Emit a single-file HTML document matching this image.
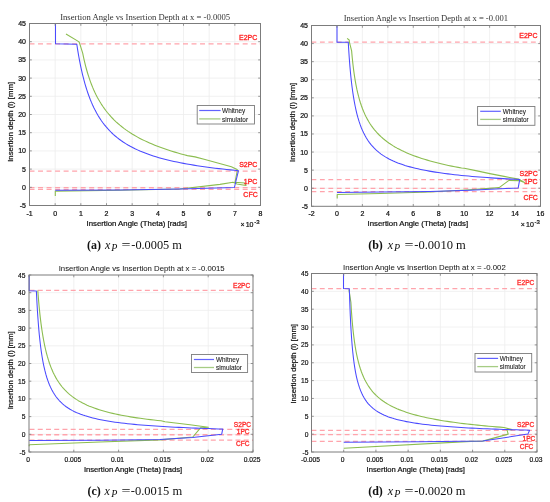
<!DOCTYPE html>
<html><head><meta charset="utf-8"><style>
html,body{margin:0;padding:0;background:#fff;}
svg{display:block;filter:blur(0.3px);}
</style></head><body>
<svg width="550" height="502" viewBox="0 0 550 502">
<style>
.tk,.lb,.lg,.rd,.ts{font-family:'Liberation Sans',Arial,sans-serif;}
.ti,.cp{font-family:'Liberation Serif','Times New Roman',serif;}
.tk{font-size:7px;fill:#111;stroke:#111;stroke-width:0.22px;}
.tk2{font-family:'Liberation Sans',Arial,sans-serif;font-size:6.7px;fill:#111;stroke:#111;stroke-width:0.18px;}
.lb{font-size:7px;fill:#111;stroke:#111;stroke-width:0.2px;}
.lg{font-size:6.4px;fill:#222;stroke:#222;stroke-width:0.08px;}
.rd{font-size:7.0px;fill:#ff2020;stroke:#ff2020;stroke-width:0.3px;}
.rd2{font-family:'Liberation Sans',Arial,sans-serif;font-size:6.6px;fill:#ff2a2a;stroke:#ff2a2a;stroke-width:0.3px;}
.ti{fill:#333;}
.ts{fill:#1a1a1a;stroke:#1a1a1a;stroke-width:0.05px;}
.cp{font-size:12px;fill:#111;}
.cb{font-weight:bold;}
.ci{font-style:italic;}
.cs{font-size:10px;}
</style>
<rect width="550" height="502" fill="#fff"/>
<path d="M55.17,23.50V205.50 M80.83,23.50V205.50 M106.50,23.50V205.50 M132.17,23.50V205.50 M157.83,23.50V205.50 M183.50,23.50V205.50 M209.17,23.50V205.50 M234.83,23.50V205.50 M29.50,187.30H260.50 M29.50,169.10H260.50 M29.50,150.90H260.50 M29.50,132.70H260.50 M29.50,114.50H260.50 M29.50,96.30H260.50 M29.50,78.10H260.50 M29.50,59.90H260.50 M29.50,41.70H260.50" stroke="#eeeeee" stroke-width="0.8" fill="none"/>
<line x1="29.50" y1="43.95" x2="260.50" y2="43.95" stroke="#ffa4ac" stroke-width="1.3" stroke-dasharray="5 3.527" stroke-dashoffset="0"/>
<line x1="29.50" y1="171.15" x2="260.50" y2="171.15" stroke="#ffa4ac" stroke-width="1.3" stroke-dasharray="5 3.527" stroke-dashoffset="0"/>
<line x1="29.50" y1="187.55" x2="260.50" y2="187.55" stroke="#ffa4ac" stroke-width="1.3" stroke-dasharray="5 3.527" stroke-dashoffset="0"/>
<line x1="29.50" y1="189.45" x2="260.50" y2="189.45" stroke="#ffa4ac" stroke-width="1.3" stroke-dasharray="5 3.527" stroke-dashoffset="0"/>
<path d="M66.00,34.00 L78.70,41.60 L79.30,42.40 L82.69,53.07 L83.15,55.36 L83.67,57.77 L84.23,60.29 L84.84,62.89 L85.50,65.55 L86.21,68.26 L86.97,70.98 L87.78,73.72 L88.64,76.45 L89.55,79.17 L90.50,81.86 L91.51,84.52 L92.56,87.15 L93.66,89.72 L94.81,92.25 L96.01,94.73 L97.26,97.16 L98.56,99.52 L99.91,101.83 L101.31,104.08 L102.75,106.28 L104.25,108.41 L105.79,110.49 L107.38,112.51 L109.02,114.48 L110.71,116.39 L112.45,118.25 L114.24,120.05 L116.08,121.81 L117.97,123.51 L119.90,125.17 L121.89,126.78 L123.92,128.34 L126.00,129.86 L128.13,131.34 L130.31,132.78 L132.54,134.18 L134.82,135.54 L137.15,136.86 L139.53,138.15 L141.95,139.40 L144.43,140.62 L146.95,141.81 L149.52,142.97 L152.14,144.09 L154.81,145.19 L157.53,146.26 L160.30,147.30 L163.12,148.32 L165.99,149.31 L168.90,150.28 L171.86,151.22 L174.88,152.14 L177.94,153.04 L181.05,153.92 L184.21,154.77 L187.42,155.61 L195.00,156.90 L204.10,159.20 L213.20,161.80 L222.30,164.30 L231.40,166.80 L235.00,168.40 L237.10,169.50 L237.40,170.00 L235.00,182.30 L245.00,183.00 L246.00,185.50 L237.00,184.00 L233.00,182.30 L220.00,184.40 L180.00,189.00 L120.00,190.30 L55.30,191.10 L55.30,196.10" stroke="#8cbd50" stroke-width="1.1" fill="none" stroke-linejoin="round"/>
<path d="M55.50,23.50 L55.50,43.80 L76.80,44.20 L76.82,44.37 L76.90,44.88 L77.03,45.71 L77.20,46.87 L77.43,48.32 L77.71,50.06 L78.04,52.06 L78.42,54.29 L78.84,56.74 L79.32,59.36 L79.86,62.15 L80.44,65.06 L81.07,68.07 L81.75,71.16 L82.48,74.30 L83.27,77.48 L84.10,80.66 L84.98,83.85 L85.92,87.01 L86.90,90.14 L87.94,93.23 L89.03,96.26 L90.16,99.23 L91.35,102.13 L92.59,104.95 L93.88,107.70 L95.22,110.37 L96.61,112.95 L98.05,115.45 L99.54,117.87 L101.08,120.20 L102.67,122.45 L104.31,124.62 L106.01,126.70 L107.75,128.71 L109.54,130.64 L111.39,132.50 L113.28,134.29 L115.23,136.01 L117.22,137.65 L119.27,139.24 L121.37,140.76 L123.51,142.22 L125.71,143.63 L127.96,144.98 L130.26,146.28 L132.61,147.52 L135.01,148.72 L137.46,149.87 L139.96,150.98 L142.51,152.04 L145.12,153.06 L147.77,154.05 L150.47,155.00 L153.23,155.91 L156.03,156.78 L158.89,157.63 L161.79,158.44 L164.75,159.23 L167.76,159.98 L170.81,160.71 L173.92,161.41 L177.08,162.09 L180.29,162.74 L183.55,163.37 L186.86,163.98 L190.22,164.57 L193.63,165.13 L197.09,165.68 L200.60,166.21 L204.16,166.72 L207.78,167.22 L211.44,167.70 L215.15,168.16 L218.92,168.61 L222.73,169.04 L226.60,169.46 L230.52,169.87 L234.48,170.26 L238.50,170.65 L234.40,187.50 L180.00,189.00 L120.00,189.90 L55.30,190.30" stroke="#4a4aff" stroke-width="1.05" fill="none" stroke-linejoin="round"/>
<text x="257.35" y="40.30" text-anchor="end" class="rd">E2PC</text>
<text x="257.45" y="167.30" text-anchor="end" class="rd">S2PC</text>
<text x="257.45" y="184.30" text-anchor="end" class="rd">1PC</text>
<text x="257.75" y="197.00" text-anchor="end" class="rd">CFC</text>
<path d="M29.50,205.50v-2.30 M29.50,23.50v2.30 M55.17,205.50v-2.30 M55.17,23.50v2.30 M80.83,205.50v-2.30 M80.83,23.50v2.30 M106.50,205.50v-2.30 M106.50,23.50v2.30 M132.17,205.50v-2.30 M132.17,23.50v2.30 M157.83,205.50v-2.30 M157.83,23.50v2.30 M183.50,205.50v-2.30 M183.50,23.50v2.30 M209.17,205.50v-2.30 M209.17,23.50v2.30 M234.83,205.50v-2.30 M234.83,23.50v2.30 M260.50,205.50v-2.30 M260.50,23.50v2.30 M29.50,205.50h2.30 M260.50,205.50h-2.30 M29.50,187.30h2.30 M260.50,187.30h-2.30 M29.50,169.10h2.30 M260.50,169.10h-2.30 M29.50,150.90h2.30 M260.50,150.90h-2.30 M29.50,132.70h2.30 M260.50,132.70h-2.30 M29.50,114.50h2.30 M260.50,114.50h-2.30 M29.50,96.30h2.30 M260.50,96.30h-2.30 M29.50,78.10h2.30 M260.50,78.10h-2.30 M29.50,59.90h2.30 M260.50,59.90h-2.30 M29.50,41.70h2.30 M260.50,41.70h-2.30 M29.50,23.50h2.30 M260.50,23.50h-2.30" stroke="#7c7c7c" stroke-width="0.8" fill="none"/>
<rect x="29.50" y="23.50" width="231.00" height="182.00" stroke="#7c7c7c" stroke-width="1" fill="none"/>
<text x="29.50" y="215.50" text-anchor="middle" class="tk">-1</text>
<text x="55.17" y="215.50" text-anchor="middle" class="tk">0</text>
<text x="80.83" y="215.50" text-anchor="middle" class="tk">1</text>
<text x="106.50" y="215.50" text-anchor="middle" class="tk">2</text>
<text x="132.17" y="215.50" text-anchor="middle" class="tk">3</text>
<text x="157.83" y="215.50" text-anchor="middle" class="tk">4</text>
<text x="183.50" y="215.50" text-anchor="middle" class="tk">5</text>
<text x="209.17" y="215.50" text-anchor="middle" class="tk">6</text>
<text x="234.83" y="215.50" text-anchor="middle" class="tk">7</text>
<text x="260.50" y="215.50" text-anchor="middle" class="tk">8</text>
<text x="26.00" y="208.00" text-anchor="end" class="tk">-5</text>
<text x="26.00" y="189.80" text-anchor="end" class="tk">0</text>
<text x="26.00" y="171.60" text-anchor="end" class="tk">5</text>
<text x="26.00" y="153.40" text-anchor="end" class="tk">10</text>
<text x="26.00" y="135.20" text-anchor="end" class="tk">15</text>
<text x="26.00" y="117.00" text-anchor="end" class="tk">20</text>
<text x="26.00" y="98.80" text-anchor="end" class="tk">25</text>
<text x="26.00" y="80.60" text-anchor="end" class="tk">30</text>
<text x="26.00" y="62.40" text-anchor="end" class="tk">35</text>
<text x="26.00" y="44.20" text-anchor="end" class="tk">40</text>
<text x="26.00" y="26.00" text-anchor="end" class="tk">45</text>
<text x="240.50" y="227.40" class="tk"><tspan>×</tspan><tspan dx="1.1">10</tspan><tspan dx="0.7" dy="-3" font-size="6">-3</tspan></text>
<text x="86.50" y="226.00" class="lb" textLength="100.50" lengthAdjust="spacingAndGlyphs">Insertion Angle (Theta) [rads]</text>
<text transform="translate(12.60,161.80) rotate(-90)" x="0" y="0" class="lb" textLength="79.90" lengthAdjust="spacingAndGlyphs">Insertion depth (l) [mm]</text>
<text x="60.20" y="19.80" class="ti" font-size="7.6" textLength="170.00" lengthAdjust="spacingAndGlyphs">Insertion Angle vs Insertion Depth at x = -0.0005</text>
<rect x="197.20" y="105.50" width="57.30" height="18.50" fill="#fff" stroke="#7c7c7c" stroke-width="0.9"/>
<line x1="199.20" y1="110.50" x2="220.60" y2="110.50" stroke="#6262ff" stroke-width="1.2"/>
<line x1="199.20" y1="118.90" x2="220.60" y2="118.90" stroke="#a6cc84" stroke-width="1.3"/>
<text x="222.10" y="113.30" class="lg">Whitney</text>
<text x="222.10" y="121.70" class="lg">simulator</text>
<text x="86.90" y="249.20" class="cp cb">(a)</text>
<text x="105.00" y="249.20" class="cp ci">x</text>
<text x="111.20" y="251.20" class="cp ci cs">P</text>
<text x="121.50" y="249.20" class="cp" textLength="9" lengthAdjust="spacingAndGlyphs">=</text>
<text x="131.30" y="249.20" class="cp" textLength="50.60" lengthAdjust="spacingAndGlyphs">-0.0005 m</text>
<path d="M336.94,25.50V206.30 M362.39,25.50V206.30 M387.83,25.50V206.30 M413.28,25.50V206.30 M438.72,25.50V206.30 M464.17,25.50V206.30 M489.61,25.50V206.30 M515.06,25.50V206.30 M311.50,188.22H540.50 M311.50,170.14H540.50 M311.50,152.06H540.50 M311.50,133.98H540.50 M311.50,115.90H540.50 M311.50,97.82H540.50 M311.50,79.74H540.50 M311.50,61.66H540.50 M311.50,43.58H540.50" stroke="#eeeeee" stroke-width="0.8" fill="none"/>
<line x1="311.50" y1="42.15" x2="540.50" y2="42.15" stroke="#ffa4ac" stroke-width="1.3" stroke-dasharray="4.8 3.64" stroke-dashoffset="0"/>
<line x1="311.50" y1="179.65" x2="540.50" y2="179.65" stroke="#ffa4ac" stroke-width="1.3" stroke-dasharray="4.8 3.64" stroke-dashoffset="0"/>
<line x1="311.50" y1="188.35" x2="540.50" y2="188.35" stroke="#ffa4ac" stroke-width="1.3" stroke-dasharray="4.8 3.64" stroke-dashoffset="0"/>
<line x1="311.50" y1="191.65" x2="540.50" y2="191.65" stroke="#ffa4ac" stroke-width="1.3" stroke-dasharray="4.8 3.64" stroke-dashoffset="0"/>
<path d="M347.10,38.40 L349.20,40.00 L349.40,42.20 L351.62,50.77 L351.91,54.09 L352.25,57.72 L352.64,61.57 L353.08,65.56 L353.58,69.60 L354.13,73.66 L354.73,77.67 L355.39,81.61 L356.09,85.45 L356.85,89.17 L357.67,92.76 L358.53,96.22 L359.45,99.54 L360.41,102.72 L361.43,105.77 L362.51,108.69 L363.63,111.48 L364.81,114.15 L366.04,116.70 L367.32,119.13 L368.66,121.46 L370.05,123.70 L371.49,125.83 L372.98,127.88 L374.52,129.83 L376.12,131.71 L377.77,133.51 L379.47,135.24 L381.23,136.91 L383.03,138.50 L384.89,140.04 L386.80,141.52 L388.76,142.94 L390.78,144.31 L392.85,145.63 L394.97,146.91 L397.14,148.14 L399.37,149.33 L401.64,150.48 L403.97,151.59 L406.36,152.66 L408.79,153.71 L411.28,154.71 L413.82,155.69 L416.41,156.64 L419.05,157.56 L421.75,158.45 L424.50,159.31 L427.30,160.15 L430.15,160.97 L433.06,161.76 L436.01,162.54 L439.03,163.29 L442.09,164.02 L445.20,164.73 L448.37,165.42 L451.59,166.10 L454.86,166.76 L458.19,167.40 L461.56,168.03 L464.30,168.20 L477.00,170.90 L489.80,173.60 L504.00,176.40 L518.50,179.10 L524.50,182.50 L519.00,180.60 L509.00,180.40 L499.10,187.60 L470.00,189.80 L430.00,192.00 L380.00,193.50 L337.20,194.50 L337.20,198.40" stroke="#8cbd50" stroke-width="1.1" fill="none" stroke-linejoin="round"/>
<path d="M337.00,25.50 L337.00,42.20 L348.27,42.30 L348.30,42.78 L348.38,44.19 L348.51,46.47 L348.70,49.53 L348.94,53.25 L349.23,57.51 L349.58,62.17 L349.98,67.10 L350.44,72.19 L350.95,77.34 L351.51,82.47 L352.13,87.51 L352.80,92.42 L353.52,97.15 L354.30,101.69 L355.13,106.02 L356.01,110.13 L356.95,114.02 L357.94,117.69 L358.98,121.15 L360.08,124.41 L361.23,127.47 L362.44,130.35 L363.70,133.06 L365.01,135.60 L366.38,137.99 L367.80,140.24 L369.27,142.35 L370.80,144.33 L372.38,146.20 L374.01,147.97 L375.70,149.63 L377.44,151.19 L379.23,152.67 L381.08,154.07 L382.98,155.40 L384.94,156.65 L386.95,157.83 L389.01,158.96 L391.13,160.02 L393.30,161.04 L395.52,162.00 L397.80,162.91 L400.13,163.78 L402.51,164.61 L404.95,165.41 L407.44,166.16 L409.99,166.88 L412.58,167.57 L415.24,168.23 L417.94,168.85 L420.70,169.46 L423.51,170.03 L426.38,170.59 L429.30,171.12 L432.27,171.62 L435.30,172.11 L438.38,172.58 L441.51,173.03 L444.70,173.47 L447.94,173.88 L451.24,174.29 L454.58,174.67 L457.99,175.05 L461.44,175.41 L464.95,175.75 L468.51,176.09 L472.13,176.41 L475.80,176.72 L479.52,177.03 L483.30,177.32 L487.13,177.60 L491.01,177.87 L494.95,178.14 L498.94,178.39 L502.99,178.64 L507.08,178.88 L511.24,179.11 L515.44,179.34 L519.70,179.56 L518.20,187.90 L470.00,190.20 L430.00,191.50 L380.00,192.10 L337.00,192.40" stroke="#4a4aff" stroke-width="1.05" fill="none" stroke-linejoin="round"/>
<text x="537.55" y="38.30" text-anchor="end" class="rd">E2PC</text>
<text x="537.85" y="176.20" text-anchor="end" class="rd">S2PC</text>
<text x="537.55" y="184.20" text-anchor="end" class="rd">1PC</text>
<text x="537.85" y="199.60" text-anchor="end" class="rd">CFC</text>
<path d="M311.50,206.30v-2.30 M311.50,25.50v2.30 M336.94,206.30v-2.30 M336.94,25.50v2.30 M362.39,206.30v-2.30 M362.39,25.50v2.30 M387.83,206.30v-2.30 M387.83,25.50v2.30 M413.28,206.30v-2.30 M413.28,25.50v2.30 M438.72,206.30v-2.30 M438.72,25.50v2.30 M464.17,206.30v-2.30 M464.17,25.50v2.30 M489.61,206.30v-2.30 M489.61,25.50v2.30 M515.06,206.30v-2.30 M515.06,25.50v2.30 M540.50,206.30v-2.30 M540.50,25.50v2.30 M311.50,206.30h2.30 M540.50,206.30h-2.30 M311.50,188.22h2.30 M540.50,188.22h-2.30 M311.50,170.14h2.30 M540.50,170.14h-2.30 M311.50,152.06h2.30 M540.50,152.06h-2.30 M311.50,133.98h2.30 M540.50,133.98h-2.30 M311.50,115.90h2.30 M540.50,115.90h-2.30 M311.50,97.82h2.30 M540.50,97.82h-2.30 M311.50,79.74h2.30 M540.50,79.74h-2.30 M311.50,61.66h2.30 M540.50,61.66h-2.30 M311.50,43.58h2.30 M540.50,43.58h-2.30 M311.50,25.50h2.30 M540.50,25.50h-2.30" stroke="#7c7c7c" stroke-width="0.8" fill="none"/>
<rect x="311.50" y="25.50" width="229.00" height="180.80" stroke="#7c7c7c" stroke-width="1" fill="none"/>
<text x="311.50" y="216.00" text-anchor="middle" class="tk">-2</text>
<text x="336.94" y="216.00" text-anchor="middle" class="tk">0</text>
<text x="362.39" y="216.00" text-anchor="middle" class="tk">2</text>
<text x="387.83" y="216.00" text-anchor="middle" class="tk">4</text>
<text x="413.28" y="216.00" text-anchor="middle" class="tk">6</text>
<text x="438.72" y="216.00" text-anchor="middle" class="tk">8</text>
<text x="464.17" y="216.00" text-anchor="middle" class="tk">10</text>
<text x="489.61" y="216.00" text-anchor="middle" class="tk">12</text>
<text x="515.06" y="216.00" text-anchor="middle" class="tk">14</text>
<text x="540.50" y="216.00" text-anchor="middle" class="tk">16</text>
<text x="308.00" y="208.80" text-anchor="end" class="tk">-5</text>
<text x="308.00" y="190.72" text-anchor="end" class="tk">0</text>
<text x="308.00" y="172.64" text-anchor="end" class="tk">5</text>
<text x="308.00" y="154.56" text-anchor="end" class="tk">10</text>
<text x="308.00" y="136.48" text-anchor="end" class="tk">15</text>
<text x="308.00" y="118.40" text-anchor="end" class="tk">20</text>
<text x="308.00" y="100.32" text-anchor="end" class="tk">25</text>
<text x="308.00" y="82.24" text-anchor="end" class="tk">30</text>
<text x="308.00" y="64.16" text-anchor="end" class="tk">35</text>
<text x="308.00" y="46.08" text-anchor="end" class="tk">40</text>
<text x="308.00" y="28.00" text-anchor="end" class="tk">45</text>
<text x="520.80" y="227.30" class="tk"><tspan>×</tspan><tspan dx="1.1">10</tspan><tspan dx="0.7" dy="-3" font-size="6">-3</tspan></text>
<text x="367.60" y="226.20" class="lb" textLength="100.50" lengthAdjust="spacingAndGlyphs">Insertion Angle (Theta) [rads]</text>
<text transform="translate(295.20,162.00) rotate(-90)" x="0" y="0" class="lb" textLength="79.20" lengthAdjust="spacingAndGlyphs">Insertion depth (l) [mm]</text>
<text x="343.70" y="21.30" class="ti" font-size="7.4" textLength="164.30" lengthAdjust="spacingAndGlyphs">Insertion Angle vs Insertion Depth at x = -0.001</text>
<rect x="477.60" y="106.50" width="57.30" height="18.80" fill="#fff" stroke="#7c7c7c" stroke-width="0.9"/>
<line x1="480.20" y1="111.30" x2="500.80" y2="111.30" stroke="#6262ff" stroke-width="1.2"/>
<line x1="480.20" y1="119.40" x2="500.80" y2="119.40" stroke="#a6cc84" stroke-width="1.3"/>
<text x="502.80" y="114.10" class="lg">Whitney</text>
<text x="502.80" y="122.20" class="lg">simulator</text>
<text x="368.20" y="249.00" class="cp cb">(b)</text>
<text x="387.70" y="249.00" class="cp ci">x</text>
<text x="394.00" y="251.00" class="cp ci cs">P</text>
<text x="404.50" y="249.00" class="cp" textLength="9" lengthAdjust="spacingAndGlyphs">=</text>
<text x="414.30" y="249.00" class="cp" textLength="51.50" lengthAdjust="spacingAndGlyphs">-0.0010 m</text>
<path d="M73.80,275.00V452.00 M118.60,275.00V452.00 M163.40,275.00V452.00 M208.20,275.00V452.00 M29.00,434.30H253.00 M29.00,416.60H253.00 M29.00,398.90H253.00 M29.00,381.20H253.00 M29.00,363.50H253.00 M29.00,345.80H253.00 M29.00,328.10H253.00 M29.00,310.40H253.00 M29.00,292.70H253.00" stroke="#eeeeee" stroke-width="0.8" fill="none"/>
<line x1="29.00" y1="290.45" x2="253.00" y2="290.45" stroke="#ffa4ac" stroke-width="1.3" stroke-dasharray="5 3.24" stroke-dashoffset="-0.5"/>
<line x1="29.00" y1="429.35" x2="253.00" y2="429.35" stroke="#ffa4ac" stroke-width="1.3" stroke-dasharray="5 3.24" stroke-dashoffset="-0.5"/>
<line x1="29.00" y1="434.75" x2="253.00" y2="434.75" stroke="#ffa4ac" stroke-width="1.3" stroke-dasharray="5 3.24" stroke-dashoffset="-0.5"/>
<line x1="29.00" y1="440.15" x2="253.00" y2="440.15" stroke="#ffa4ac" stroke-width="1.3" stroke-dasharray="5 3.24" stroke-dashoffset="-0.5"/>
<path d="M37.80,290.50 L37.83,290.87 L37.91,291.95 L38.04,293.72 L38.23,296.11 L38.47,299.06 L38.76,302.48 L39.11,306.27 L39.51,310.37 L39.96,314.67 L40.47,319.10 L41.03,323.59 L41.64,328.09 L42.31,332.54 L43.03,336.91 L43.80,341.16 L44.63,345.28 L45.51,349.25 L46.44,353.06 L47.43,356.70 L48.47,360.17 L49.56,363.48 L50.70,366.62 L51.90,369.59 L53.16,372.42 L54.46,375.09 L55.82,377.63 L57.24,380.02 L58.70,382.30 L60.22,384.44 L61.79,386.48 L63.42,388.41 L65.10,390.23 L66.83,391.96 L68.62,393.61 L70.46,395.16 L72.35,396.64 L74.29,398.05 L76.29,399.38 L78.35,400.65 L80.45,401.86 L82.61,403.01 L84.82,404.10 L87.09,405.15 L89.41,406.14 L91.78,407.09 L94.21,408.00 L96.69,408.87 L99.22,409.70 L101.80,410.50 L104.44,411.26 L107.13,411.98 L109.88,412.68 L112.68,413.35 L115.53,414.00 L118.44,414.61 L121.40,415.21 L124.41,415.78 L127.47,416.32 L130.59,416.85 L133.76,417.36 L136.99,417.85 L140.27,418.32 L143.60,418.77 L146.99,419.21 L150.42,419.63 L153.92,420.04 L157.46,420.44 L161.06,420.82 L165.00,421.70 L190.00,424.80 L208.40,427.20 L200.50,427.80 L192.80,437.00 L160.00,439.90 L100.00,442.00 L29.20,444.70 L29.20,446.20" stroke="#8cbd50" stroke-width="1.1" fill="none" stroke-linejoin="round"/>
<path d="M29.20,275.00 L29.20,290.80 L36.39,291.00 L36.41,291.64 L36.50,293.51 L36.65,296.53 L36.85,300.53 L37.11,305.33 L37.43,310.73 L37.81,316.53 L38.25,322.55 L38.74,328.64 L39.30,334.68 L39.91,340.57 L40.58,346.24 L41.31,351.64 L42.09,356.75 L42.94,361.55 L43.84,366.05 L44.80,370.24 L45.82,374.14 L46.89,377.76 L48.03,381.12 L49.22,384.23 L50.48,387.12 L51.79,389.79 L53.15,392.27 L54.58,394.57 L56.06,396.70 L57.61,398.68 L59.21,400.52 L60.87,402.23 L62.59,403.83 L64.36,405.32 L66.20,406.71 L68.09,408.00 L70.04,409.22 L72.05,410.36 L74.11,411.42 L76.24,412.42 L78.42,413.36 L80.66,414.25 L82.96,415.08 L85.32,415.86 L87.74,416.60 L90.21,417.30 L92.75,417.96 L95.34,418.59 L97.99,419.18 L100.69,419.74 L103.46,420.28 L106.28,420.78 L109.16,421.26 L112.10,421.72 L115.10,422.15 L118.16,422.57 L121.27,422.96 L124.45,423.34 L127.68,423.70 L130.97,424.04 L134.32,424.37 L137.72,424.68 L141.19,424.98 L144.71,425.27 L148.29,425.55 L151.93,425.81 L155.63,426.06 L159.38,426.31 L163.20,426.54 L167.07,426.77 L171.00,426.98 L174.99,427.19 L179.03,427.39 L183.14,427.58 L187.30,427.77 L191.52,427.95 L195.80,428.12 L200.14,428.29 L204.53,428.45 L208.99,428.60 L213.50,428.75 L218.07,428.90 L222.70,429.04 L221.70,434.20 L192.50,437.40 L160.00,439.60 L100.00,440.30 L29.20,440.50" stroke="#4a4aff" stroke-width="1.05" fill="none" stroke-linejoin="round"/>
<text x="250.25" y="287.50" text-anchor="end" class="rd2">E2PC</text>
<text x="251.05" y="426.60" text-anchor="end" class="rd2">S2PC</text>
<text x="249.55" y="434.20" text-anchor="end" class="rd2">1PC</text>
<text x="249.65" y="446.10" text-anchor="end" class="rd2">CFC</text>
<path d="M29.00,452.00v-2.30 M29.00,275.00v2.30 M73.80,452.00v-2.30 M73.80,275.00v2.30 M118.60,452.00v-2.30 M118.60,275.00v2.30 M163.40,452.00v-2.30 M163.40,275.00v2.30 M208.20,452.00v-2.30 M208.20,275.00v2.30 M253.00,452.00v-2.30 M253.00,275.00v2.30 M29.00,452.00h2.30 M253.00,452.00h-2.30 M29.00,434.30h2.30 M253.00,434.30h-2.30 M29.00,416.60h2.30 M253.00,416.60h-2.30 M29.00,398.90h2.30 M253.00,398.90h-2.30 M29.00,381.20h2.30 M253.00,381.20h-2.30 M29.00,363.50h2.30 M253.00,363.50h-2.30 M29.00,345.80h2.30 M253.00,345.80h-2.30 M29.00,328.10h2.30 M253.00,328.10h-2.30 M29.00,310.40h2.30 M253.00,310.40h-2.30 M29.00,292.70h2.30 M253.00,292.70h-2.30 M29.00,275.00h2.30 M253.00,275.00h-2.30" stroke="#7c7c7c" stroke-width="0.8" fill="none"/>
<rect x="29.00" y="275.00" width="224.00" height="177.00" stroke="#7c7c7c" stroke-width="1" fill="none"/>
<text x="28.00" y="462.00" text-anchor="middle" class="tk2">0</text>
<text x="72.80" y="462.00" text-anchor="middle" class="tk2">0.005</text>
<text x="117.60" y="462.00" text-anchor="middle" class="tk2">0.01</text>
<text x="162.40" y="462.00" text-anchor="middle" class="tk2">0.015</text>
<text x="207.20" y="462.00" text-anchor="middle" class="tk2">0.02</text>
<text x="252.00" y="462.00" text-anchor="middle" class="tk2">0.025</text>
<text x="25.50" y="454.50" text-anchor="end" class="tk2">-5</text>
<text x="25.50" y="436.80" text-anchor="end" class="tk2">0</text>
<text x="25.50" y="419.10" text-anchor="end" class="tk2">5</text>
<text x="25.50" y="401.40" text-anchor="end" class="tk2">10</text>
<text x="25.50" y="383.70" text-anchor="end" class="tk2">15</text>
<text x="25.50" y="366.00" text-anchor="end" class="tk2">20</text>
<text x="25.50" y="348.30" text-anchor="end" class="tk2">25</text>
<text x="25.50" y="330.60" text-anchor="end" class="tk2">30</text>
<text x="25.50" y="312.90" text-anchor="end" class="tk2">35</text>
<text x="25.50" y="295.20" text-anchor="end" class="tk2">40</text>
<text x="25.50" y="277.50" text-anchor="end" class="tk2">45</text>
<text x="83.90" y="472.30" class="lb" textLength="98.30" lengthAdjust="spacingAndGlyphs">Insertion Angle (Theta) [rads]</text>
<text transform="translate(13.10,409.30) rotate(-90)" x="0" y="0" class="lb" textLength="77.90" lengthAdjust="spacingAndGlyphs">Insertion depth (l) [mm]</text>
<text x="58.70" y="270.80" class="ts" font-size="7.8" textLength="166.00" lengthAdjust="spacingAndGlyphs">Insertion Angle vs Insertion Depth at x = -0.0015</text>
<rect x="191.50" y="354.50" width="56.10" height="18.00" fill="#fff" stroke="#7c7c7c" stroke-width="0.9"/>
<line x1="193.90" y1="359.50" x2="214.00" y2="359.50" stroke="#6262ff" stroke-width="1.2"/>
<line x1="193.90" y1="367.50" x2="214.00" y2="367.50" stroke="#a6cc84" stroke-width="1.3"/>
<text x="216.00" y="362.30" class="lg">Whitney</text>
<text x="216.00" y="370.30" class="lg">simulator</text>
<text x="87.40" y="494.60" class="cp cb">(c)</text>
<text x="104.50" y="494.60" class="cp ci">x</text>
<text x="111.20" y="496.60" class="cp ci cs">P</text>
<text x="121.50" y="494.60" class="cp" textLength="9" lengthAdjust="spacingAndGlyphs">=</text>
<text x="130.80" y="494.60" class="cp" textLength="51.40" lengthAdjust="spacingAndGlyphs">-0.0015 m</text>
<path d="M343.71,273.50V452.00 M375.93,273.50V452.00 M408.14,273.50V452.00 M440.36,273.50V452.00 M472.57,273.50V452.00 M504.79,273.50V452.00 M311.50,434.15H537.00 M311.50,416.30H537.00 M311.50,398.45H537.00 M311.50,380.60H537.00 M311.50,362.75H537.00 M311.50,344.90H537.00 M311.50,327.05H537.00 M311.50,309.20H537.00 M311.50,291.35H537.00" stroke="#eeeeee" stroke-width="0.8" fill="none"/>
<line x1="311.50" y1="288.65" x2="537.00" y2="288.65" stroke="#ffa4ac" stroke-width="1.3" stroke-dasharray="4.9 3.39" stroke-dashoffset="0"/>
<line x1="311.50" y1="430.45" x2="537.00" y2="430.45" stroke="#ffa4ac" stroke-width="1.3" stroke-dasharray="4.9 3.39" stroke-dashoffset="0"/>
<line x1="311.50" y1="434.55" x2="537.00" y2="434.55" stroke="#ffa4ac" stroke-width="1.3" stroke-dasharray="4.9 3.39" stroke-dashoffset="0"/>
<line x1="311.50" y1="441.45" x2="537.00" y2="441.45" stroke="#ffa4ac" stroke-width="1.3" stroke-dasharray="4.9 3.39" stroke-dashoffset="0"/>
<path d="M348.90,289.30 L350.89,302.39 L351.17,307.02 L351.49,311.97 L351.87,317.11 L352.30,322.31 L352.78,327.46 L353.31,332.51 L353.90,337.40 L354.53,342.09 L355.21,346.56 L355.94,350.81 L356.73,354.84 L357.56,358.63 L358.44,362.22 L359.38,365.59 L360.37,368.77 L361.40,371.76 L362.49,374.58 L363.63,377.23 L364.81,379.73 L366.05,382.09 L367.34,384.31 L368.68,386.42 L370.07,388.40 L371.51,390.29 L373.00,392.07 L374.54,393.76 L376.14,395.36 L377.78,396.88 L379.47,398.33 L381.22,399.71 L383.01,401.02 L384.85,402.27 L386.75,403.47 L388.70,404.61 L390.69,405.70 L392.74,406.75 L394.84,407.74 L396.99,408.70 L399.18,409.62 L401.43,410.50 L403.73,411.35 L406.08,412.16 L408.48,412.94 L410.94,413.70 L413.44,414.42 L415.99,415.12 L418.59,415.80 L421.25,416.45 L423.95,417.07 L426.71,417.68 L429.51,418.26 L432.37,418.83 L435.27,419.38 L438.23,419.91 L441.24,420.42 L444.30,420.92 L447.40,421.40 L450.56,421.87 L453.77,422.32 L457.03,422.76 L460.34,423.19 L463.70,423.60 L467.12,424.00 L470.58,424.40 L474.09,424.78 L477.65,425.15 L481.27,425.51 L484.93,425.86 L488.65,426.20 L492.41,426.53 L496.23,426.86 L500.10,427.17 L504.01,427.48 L505.00,427.70 L512.00,429.60 L506.90,429.60 L508.20,434.10 L482.70,441.10 L470.90,441.40 L343.70,448.20" stroke="#8cbd50" stroke-width="1.1" fill="none" stroke-linejoin="round"/>
<path d="M343.50,273.50 L343.50,288.60 L349.32,288.70 L349.35,289.67 L349.44,292.50 L349.58,296.95 L349.77,302.68 L350.03,309.33 L350.34,316.52 L350.70,323.93 L351.13,331.30 L351.60,338.46 L352.14,345.28 L352.73,351.68 L353.38,357.63 L354.08,363.13 L354.84,368.19 L355.66,372.81 L356.53,377.05 L357.46,380.91 L358.45,384.44 L359.49,387.67 L360.59,390.62 L361.75,393.32 L362.96,395.79 L364.22,398.06 L365.55,400.14 L366.93,402.06 L368.37,403.84 L369.86,405.47 L371.41,406.98 L373.01,408.39 L374.67,409.69 L376.39,410.90 L378.17,412.03 L380.00,413.08 L381.89,414.06 L383.83,414.98 L385.83,415.84 L387.89,416.65 L390.00,417.40 L392.17,418.12 L394.39,418.79 L396.67,419.42 L399.01,420.02 L401.41,420.58 L403.86,421.11 L406.36,421.62 L408.93,422.10 L411.55,422.55 L414.22,422.98 L416.96,423.39 L419.74,423.78 L422.59,424.15 L425.49,424.51 L428.45,424.85 L431.46,425.17 L434.53,425.48 L437.66,425.77 L440.84,426.05 L444.08,426.32 L447.38,426.58 L450.73,426.83 L454.14,427.06 L457.60,427.29 L461.12,427.51 L464.70,427.72 L468.33,427.92 L472.02,428.12 L475.77,428.30 L479.57,428.48 L483.43,428.66 L487.35,428.83 L491.32,428.99 L495.35,429.14 L499.43,429.29 L503.57,429.44 L507.77,429.58 L512.02,429.72 L516.33,429.85 L520.70,429.97 L525.12,430.10 L529.60,430.22 L527.90,434.10 L482.70,441.10 L420.00,441.80 L343.70,442.20" stroke="#4a4aff" stroke-width="1.05" fill="none" stroke-linejoin="round"/>
<text x="534.35" y="285.20" text-anchor="end" class="rd2">E2PC</text>
<text x="534.25" y="426.60" text-anchor="end" class="rd2">S2PC</text>
<text x="535.35" y="440.50" text-anchor="end" class="rd2">1PC</text>
<text x="533.25" y="448.90" text-anchor="end" class="rd2">CFC</text>
<path d="M311.50,452.00v-2.30 M311.50,273.50v2.30 M343.71,452.00v-2.30 M343.71,273.50v2.30 M375.93,452.00v-2.30 M375.93,273.50v2.30 M408.14,452.00v-2.30 M408.14,273.50v2.30 M440.36,452.00v-2.30 M440.36,273.50v2.30 M472.57,452.00v-2.30 M472.57,273.50v2.30 M504.79,452.00v-2.30 M504.79,273.50v2.30 M537.00,452.00v-2.30 M537.00,273.50v2.30 M311.50,452.00h2.30 M537.00,452.00h-2.30 M311.50,434.15h2.30 M537.00,434.15h-2.30 M311.50,416.30h2.30 M537.00,416.30h-2.30 M311.50,398.45h2.30 M537.00,398.45h-2.30 M311.50,380.60h2.30 M537.00,380.60h-2.30 M311.50,362.75h2.30 M537.00,362.75h-2.30 M311.50,344.90h2.30 M537.00,344.90h-2.30 M311.50,327.05h2.30 M537.00,327.05h-2.30 M311.50,309.20h2.30 M537.00,309.20h-2.30 M311.50,291.35h2.30 M537.00,291.35h-2.30 M311.50,273.50h2.30 M537.00,273.50h-2.30" stroke="#7c7c7c" stroke-width="0.8" fill="none"/>
<rect x="311.50" y="273.50" width="225.50" height="178.50" stroke="#7c7c7c" stroke-width="1" fill="none"/>
<text x="310.50" y="462.00" text-anchor="middle" class="tk2">-0.005</text>
<text x="342.71" y="462.00" text-anchor="middle" class="tk2">0</text>
<text x="374.93" y="462.00" text-anchor="middle" class="tk2">0.005</text>
<text x="407.14" y="462.00" text-anchor="middle" class="tk2">0.01</text>
<text x="439.36" y="462.00" text-anchor="middle" class="tk2">0.015</text>
<text x="471.57" y="462.00" text-anchor="middle" class="tk2">0.02</text>
<text x="503.79" y="462.00" text-anchor="middle" class="tk2">0.025</text>
<text x="536.00" y="462.00" text-anchor="middle" class="tk2">0.03</text>
<text x="308.50" y="454.50" text-anchor="end" class="tk2">-5</text>
<text x="308.50" y="436.65" text-anchor="end" class="tk2">0</text>
<text x="308.50" y="418.80" text-anchor="end" class="tk2">5</text>
<text x="308.50" y="400.95" text-anchor="end" class="tk2">10</text>
<text x="308.50" y="383.10" text-anchor="end" class="tk2">15</text>
<text x="308.50" y="365.25" text-anchor="end" class="tk2">20</text>
<text x="308.50" y="347.40" text-anchor="end" class="tk2">25</text>
<text x="308.50" y="329.55" text-anchor="end" class="tk2">30</text>
<text x="308.50" y="311.70" text-anchor="end" class="tk2">35</text>
<text x="308.50" y="293.85" text-anchor="end" class="tk2">40</text>
<text x="308.50" y="276.00" text-anchor="end" class="tk2">45</text>
<text x="366.60" y="472.30" class="lb" textLength="98.30" lengthAdjust="spacingAndGlyphs">Insertion Angle (Theta) [rads]</text>
<text transform="translate(295.80,403.60) rotate(-90)" x="0" y="0" class="lb" textLength="79.60" lengthAdjust="spacingAndGlyphs">Insertion depth (l) [mm]</text>
<text x="343.10" y="269.90" class="ts" font-size="7.8" textLength="162.70" lengthAdjust="spacingAndGlyphs">Insertion Angle vs Insertion Depth at x = -0.002</text>
<rect x="475.00" y="353.50" width="56.70" height="18.50" fill="#fff" stroke="#7c7c7c" stroke-width="0.9"/>
<line x1="477.30" y1="358.40" x2="498.10" y2="358.40" stroke="#6262ff" stroke-width="1.2"/>
<line x1="477.30" y1="366.60" x2="498.10" y2="366.60" stroke="#a6cc84" stroke-width="1.3"/>
<text x="499.80" y="361.20" class="lg">Whitney</text>
<text x="499.80" y="369.40" class="lg">simulator</text>
<text x="368.20" y="494.60" class="cp cb">(d)</text>
<text x="387.70" y="494.60" class="cp ci">x</text>
<text x="394.20" y="496.60" class="cp ci cs">P</text>
<text x="404.50" y="494.60" class="cp" textLength="9" lengthAdjust="spacingAndGlyphs">=</text>
<text x="414.30" y="494.60" class="cp" textLength="51.20" lengthAdjust="spacingAndGlyphs">-0.0020 m</text>
</svg>
</body></html>
